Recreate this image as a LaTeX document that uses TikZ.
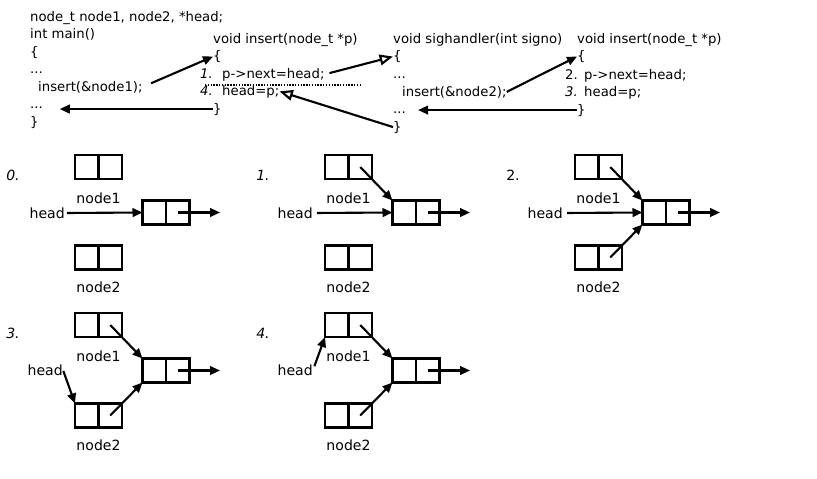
\documentclass[tikz,border=0pt]{standalone}
\usepackage{fontspec}
\setmainfont{DejaVu Sans}
\usepackage{tikz}
\usetikzlibrary{arrows.meta,positioning,calc}

\begin{document}
\begin{tikzpicture}[
        x=0.3mm,y=-0.3mm,
        codeline/.style={anchor=base west,inner sep=0pt,font=\fontsize{11.3}{13}\selectfont},
        numline/.style={codeline,font=\fontsize{11.3}{13}\selectfont\itshape},
        cell/.style={rectangle,draw,line width=2.2pt,minimum width=14.1mm,minimum height=7.2mm,inner sep=0pt,outer sep=0pt,
            path picture={\draw[line width=1.8pt] (path picture bounding box.north) -- (path picture bounding box.south);}},
        nodename/.style={inner sep=0pt,font=\fontsize{12}{14}\selectfont},
        steptag/.style={inner sep=0pt,font=\fontsize{12}{14}\selectfont\itshape},
        arrow/.style={-{Triangle[length=3mm,width=2.6mm]},line width=1.8pt},
        hollow/.style={-{Triangle[open,length=4mm,width=3.2mm]},line width=1.8pt},
    ]
    \useasboundingbox (0,0) rectangle (817,478);

    % === main() ===
    \node[codeline] (declA) at (30,21) {node\_t node1, node2, *head;};
    \node[codeline] (mainA) at (30,38.5) {int main()};
    \node[codeline] (obrA) at (30,56) {\{};
    \node[codeline] (dotA1) at (30,73.5) {...};
    \node[codeline] (callA) at (38,91) {insert(\&node1);};
    \node[codeline] (dotA2) at (30,108.5) {...};
    \node[codeline] (cbrA) at (30,126) {\}};

    % === insert(), first call ===
    \node[codeline] (sigB) at (213,43) {void insert(node\_t *p)};
    \node[codeline] (obrB) at (213,60.5) {\{};
    \node[numline] (n1B) at (200,78) {1.};
    \node[codeline] (s1B) at (222,78) {p->next=head;};
    \node[numline] (n4B) at (200,95) {4.};
    \node[codeline] (s4B) at (222,95) {head=p;};
    \node[codeline] (cbrB) at (213,113) {\}};
    \coordinate (cutL) at (205,85);
    \coordinate (cutR) at (362,85);
    \draw[line width=1.6pt,dash pattern=on 1.2pt off 1.2pt] (cutL) -- (cutR);

    % === sighandler() ===
    \node[codeline] (sigC) at (393,43) {void sighandler(int signo)};
    \node[codeline] (obrC) at (393,60.5) {\{};
    \node[codeline] (dotC1) at (393,78) {...};
    \node[codeline] (callC) at (402,96) {insert(\&node2);};
    \node[codeline] (dotC2) at (393,113.5) {...};
    \node[codeline] (cbrC) at (393,131) {\}};

    % === insert(), second call ===
    \node[codeline] (sigD) at (577,43) {void insert(node\_t *p)};
    \node[codeline] (obrD) at (577,60.5) {\{};
    \node[codeline] (n2D) at (565,79) {2.};
    \node[codeline] (s2D) at (584,79) {p->next=head;};
    \node[numline] (n3D) at (565,96) {3.};
    \node[codeline] (s3D) at (584,96) {head=p;};
    \node[codeline] (cbrD) at (577,114) {\}};

    \draw[arrow,shorten <=2.7mm] (callA.east) -- (obrB.west);
    \draw[arrow,shorten >=5mm] (cbrB.west) -- (dotA2.east |- cbrB.west);
    \draw[hollow,shorten <=1.5mm] (s1B.east) -- (obrC.west);
    \draw[hollow] (cbrC.west) -- (s4B.east);
    \draw[arrow] (callC.east) -- (obrD.west);
    \draw[arrow,shorten >=3.6mm] (cbrD.west) -- (dotC2.east |- cbrD.west);

    % === step 0 ===
    \begin{scope}[shift={(0,0)}]
        \node[steptag] (p0t) at (13,175) {0.};
        \node[cell] (p0a) at (98.5,167) {};
        \node[nodename] (p0al) at (98.5,198) {node1};
        \node[cell] (p0m) at (166,212.5) {};
        \node[nodename,anchor=east] (p0h) at (65,213) {head};
        \node[cell] (p0b) at (98.5,257.5) {};
        \node[nodename] (p0bl) at (98.5,287) {node2};
        \coordinate (p0e) at (220,212.5);
        \draw[arrow,shorten <=0.6mm] (p0h.east) -- (p0m.west);
        \draw[arrow] ($(p0m.center)!0.5!(p0m.east)$) -- (p0e);
    \end{scope}

    % === step 1 ===
    \begin{scope}[shift={(250,0)}]
        \node[steptag] (p1t) at (13,175) {1.};
        \node[cell] (p1a) at (98.5,167) {};
        \node[nodename] (p1al) at (98.5,198) {node1};
        \node[cell] (p1m) at (166,212.5) {};
        \node[nodename,anchor=east] (p1h) at (63,213) {head};
        \node[cell] (p1b) at (98.5,257.5) {};
        \node[nodename] (p1bl) at (98.5,287) {node2};
        \coordinate (p1e) at (220,212.5);
        \draw[arrow,shorten <=1.2mm] (p1h.east) -- (p1m.west);
        \draw[arrow] ($(p1m.center)!0.5!(p1m.east)$) -- (p1e);
        \draw[arrow] ($(p1a.center)!0.5!(p1a.east)$) -- (p1m.north west);
    \end{scope}

    % === step 2 ===
    \begin{scope}[shift={(500,0)}]
        \node[steptag,font=\fontsize{12}{14}\selectfont] (p2t) at (13,175) {2.};
        \node[cell] (p2a) at (98.5,167) {};
        \node[nodename] (p2al) at (98.5,198) {node1};
        \node[cell] (p2m) at (166,212.5) {};
        \node[nodename,anchor=east] (p2h) at (63,213) {head};
        \node[cell] (p2b) at (98.5,257.5) {};
        \node[nodename] (p2bl) at (98.5,287) {node2};
        \coordinate (p2e) at (220,212.5);
        \draw[arrow,shorten <=1.2mm] (p2h.east) -- (p2m.west);
        \draw[arrow] ($(p2m.center)!0.5!(p2m.east)$) -- (p2e);
        \draw[arrow] ($(p2a.center)!0.5!(p2a.east)$) -- (p2m.north west);
        \draw[arrow] ($(p2b.center)!0.5!(p2b.east)$) -- (p2m.south west);
    \end{scope}

    % === step 3 ===
    \begin{scope}[shift={(0,158)}]
        \node[steptag] (p3t) at (13,175) {3.};
        \node[cell] (p3a) at (98.5,167) {};
        \node[nodename] (p3al) at (98.5,198) {node1};
        \node[cell] (p3m) at (166,212.5) {};
        \node[nodename,anchor=east] (p3h) at (63,212) {head};
        \node[cell] (p3b) at (98.5,257.5) {};
        \node[nodename] (p3bl) at (98.5,287) {node2};
        \coordinate (p3e) at (220,212.5);
        \draw[arrow,shorten <=0.3mm] (p3h.east) -- (p3b.north west);
        \draw[arrow] ($(p3m.center)!0.5!(p3m.east)$) -- (p3e);
        \draw[arrow] ($(p3a.center)!0.5!(p3a.east)$) -- (p3m.north west);
        \draw[arrow] ($(p3b.center)!0.5!(p3b.east)$) -- (p3m.south west);
    \end{scope}

    % === step 4 ===
    \begin{scope}[shift={(250,158)}]
        \node[steptag] (p4t) at (13,175) {4.};
        \node[cell] (p4a) at (98.5,167) {};
        \node[nodename] (p4al) at (98.5,198) {node1};
        \node[cell] (p4m) at (166,212.5) {};
        \node[nodename,anchor=east] (p4h) at (63,212) {head};
        \node[cell] (p4b) at (98.5,257.5) {};
        \node[nodename] (p4bl) at (98.5,287) {node2};
        \coordinate (p4e) at (220,212.5);
        \draw[arrow,shorten <=1.2mm] (p4h.east) -- (p4a.south west);
        \draw[arrow] ($(p4m.center)!0.5!(p4m.east)$) -- (p4e);
        \draw[arrow] ($(p4a.center)!0.5!(p4a.east)$) -- (p4m.north west);
        \draw[arrow] ($(p4b.center)!0.5!(p4b.east)$) -- (p4m.south west);
    \end{scope}
\end{tikzpicture}
\end{document}
